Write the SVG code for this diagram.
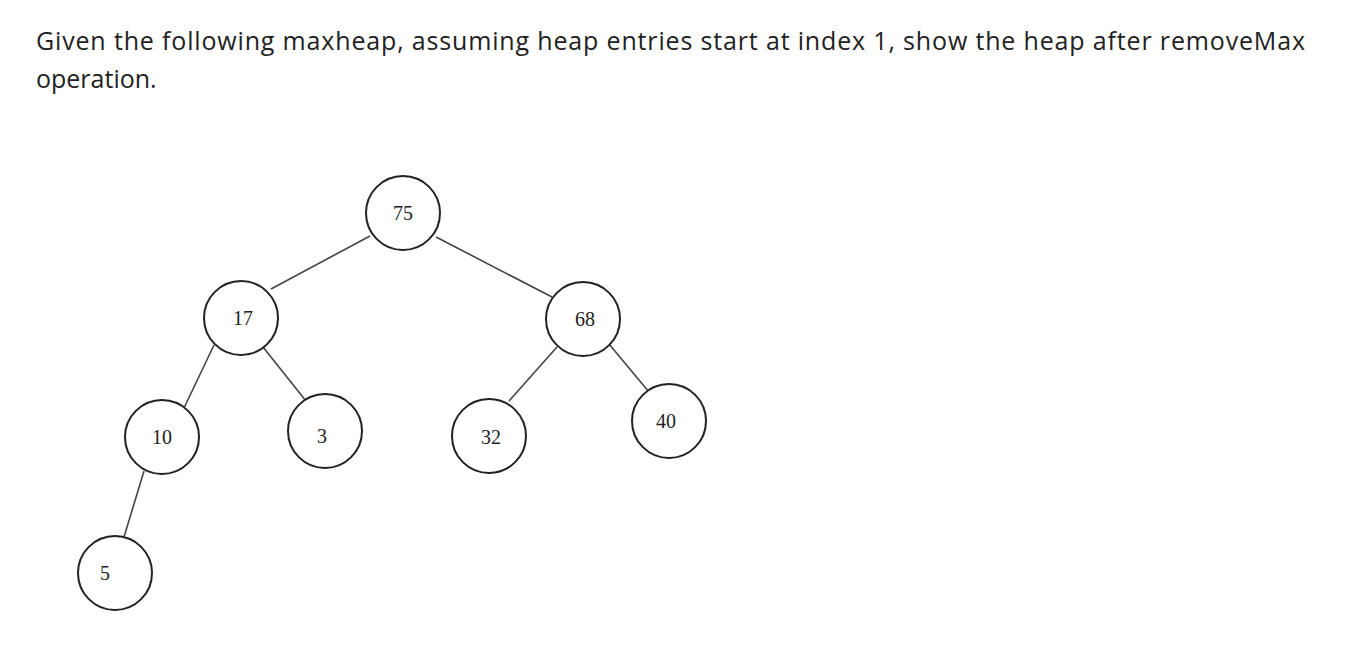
<svg xmlns="http://www.w3.org/2000/svg" width="1354" height="664" viewBox="0 0 1354 664">
<style>
.t{font-family:"Open Sans","Noto Sans",sans-serif;font-size:25px;fill:#222}
.n circle{fill:#fff;stroke:#222;stroke-width:2}
.n text{font-family:"Liberation Serif",serif;font-size:20px;text-anchor:middle;fill:#222}
#edges line{stroke:#444;stroke-width:1.6}
</style>
<rect width="1354" height="664" fill="#fff"/>
<text class="t" x="36" y="50" textLength="1269" lengthAdjust="spacing">Given the following maxheap, assuming heap entries start at index 1, show the heap after removeMax</text>
<text class="t" x="36" y="88">operation.</text>
<g id="edges">
<line x1="370" y1="236" x2="271" y2="289"/>
<line x1="436" y1="237" x2="552" y2="297"/>
<line x1="214" y1="345" x2="184" y2="408"/>
<line x1="263" y1="347" x2="306" y2="401"/>
<line x1="557" y1="347" x2="509" y2="401"/>
<line x1="609" y1="344" x2="649" y2="392"/>
<line x1="144" y1="471" x2="124" y2="537"/>
</g>
<g id="n75" class="n"><circle cx="403" cy="213" r="37"/><text x="403" y="220">75</text></g>
<g id="n17" class="n"><circle cx="241" cy="318" r="37"/><text x="243" y="325">17</text></g>
<g id="n68" class="n"><circle cx="583" cy="319" r="37"/><text x="585" y="326">68</text></g>
<g id="n10" class="n"><circle cx="162" cy="437" r="37"/><text x="162" y="444">10</text></g>
<g id="n3" class="n"><circle cx="325" cy="431" r="37"/><text x="322" y="443">3</text></g>
<g id="n32" class="n"><circle cx="489" cy="436" r="37"/><text x="491" y="444">32</text></g>
<g id="n40" class="n"><circle cx="669" cy="421" r="37"/><text x="666" y="428">40</text></g>
<g id="n5" class="n"><circle cx="115" cy="573" r="37"/><text x="105" y="580">5</text></g>
</svg>
